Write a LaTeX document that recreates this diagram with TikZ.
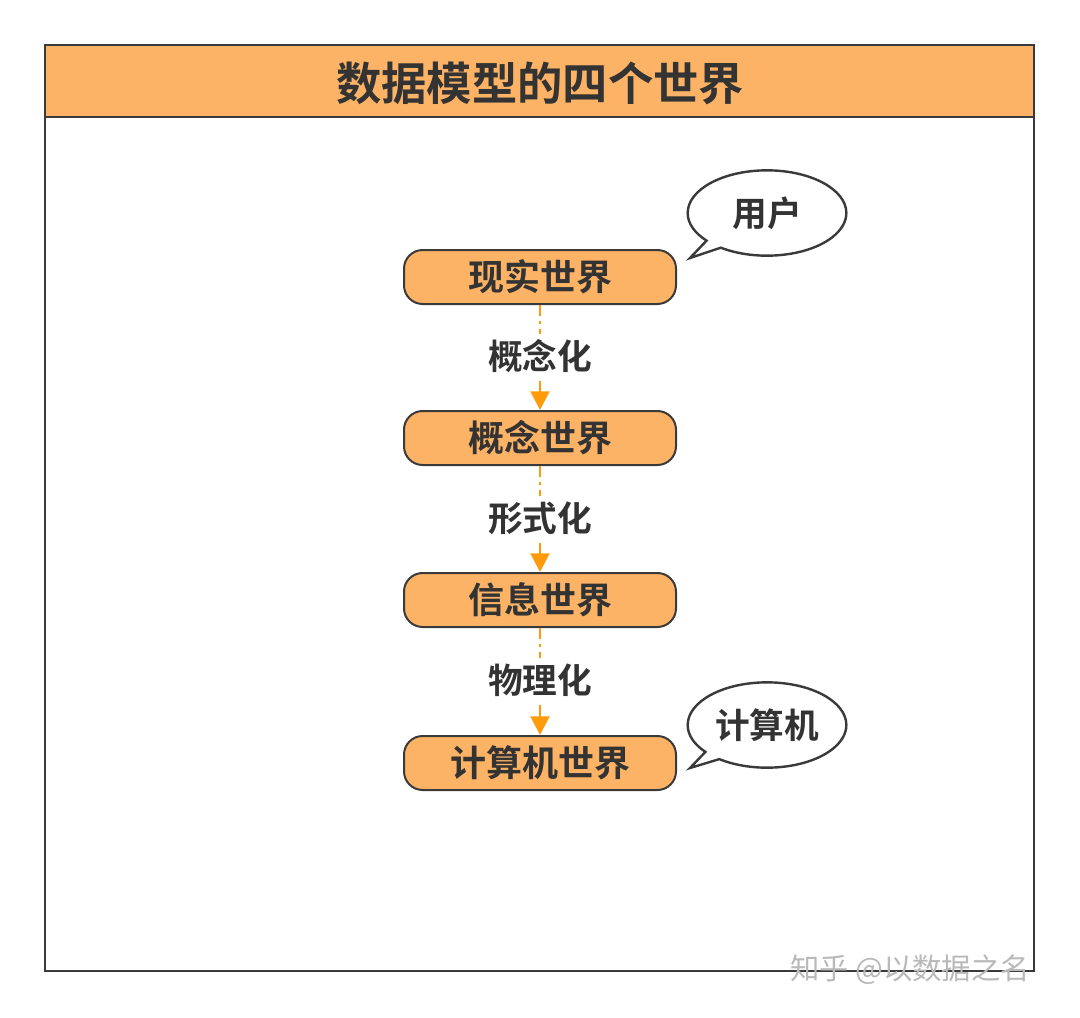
\documentclass[tikz,border=0pt]{standalone}
\usepackage{fontspec}
\usetikzlibrary{arrows.meta,shapes.callouts,shapes.geometric}
\newfontfamily\cjkb[BoldFont={Noto Sans CJK SC Bold}]{Noto Sans CJK SC}
\definecolor{hdr}{HTML}{FDB366}
\definecolor{boxfill}{HTML}{FDB366}
\definecolor{edge}{HTML}{3A3A3A}
\definecolor{txt}{HTML}{333333}
\definecolor{arr}{HTML}{FF9A0A}
\tikzset{
  world/.style={draw=edge, line width=1.5pt, fill=boxfill, rounded corners=14pt,
    minimum width=204pt, minimum height=40.5pt, inner sep=0pt,
    font=\cjkb\bfseries\fontsize{27pt}{30pt}\selectfont, text=txt},
  steplabel/.style={font=\cjkb\bfseries\fontsize{26pt}{28pt}\selectfont, text=txt,
    inner sep=0pt, minimum height=33pt},
  dashconn/.style={draw=arr, line width=2.2pt, dash pattern=on 8pt off 4pt on 2pt off 4pt},
  arrconn/.style={draw=arr, line width=2.2pt, -{Triangle[width=14pt,length=14pt]}, shorten <=2pt},
  bubble/.style={ellipse callout, draw=edge, line width=1.8pt, fill=white,
    minimum width=119pt, minimum height=64pt, inner sep=0pt,
    callout pointer arc=14,
    font=\cjkb\bfseries\fontsize{26pt}{28pt}\selectfont, text=txt},
}
\begin{document}
\begin{tikzpicture}[x=0.75pt,y=-0.75pt]
\useasboundingbox (0,0) rectangle (1080,1017);
% frame and header
\draw[edge, line width=1.5pt, fill=white] (45,45) rectangle (1034,971);
\draw[edge, line width=1.5pt, fill=hdr] (45,45) rectangle (1034,117);
\node[font=\cjkb\bfseries\fontsize{34pt}{36pt}\selectfont, text=txt] (title) at (540,83) {数据模型的四个世界};
% worlds
\node[world] (w1) at (540,277) {现实世界};
\node[world] (w2) at (540,438) {概念世界};
\node[world] (w3) at (540,600) {信息世界};
\node[world] (w4) at (540,763) {计算机世界};
% step labels
\node[steplabel] (s1) at (540,356) {概念化};
\node[steplabel] (s2) at (540,518) {形式化};
\node[steplabel] (s3) at (540,680) {物理化};
% connectors
\draw[dashconn] (w1.south) -- (s1.north);
\draw[arrconn] (s1.south) -- (w2.north);
\draw[dashconn] (w2.south) -- (s2.north);
\draw[arrconn] (s2.south) -- (w3.north);
\draw[dashconn] (w3.south) -- (s3.north);
\draw[arrconn] (s3.south) -- (w4.north);
% speech bubbles
\coordinate (p1) at (690,258);
\coordinate (p2) at (690,768);
\node[bubble, callout absolute pointer={(p1)}] (b1) at (767,213) {用户};
\node[bubble, callout absolute pointer={(p2)}] (b2) at (767,725) {计算机};
% watermark
\node[font=\cjkb\fontsize{22pt}{24pt}\selectfont, text=gray!55, anchor=west, inner sep=0pt] (wm) at (790,970) {知乎 @以数据之名};
\end{tikzpicture}
\end{document}
